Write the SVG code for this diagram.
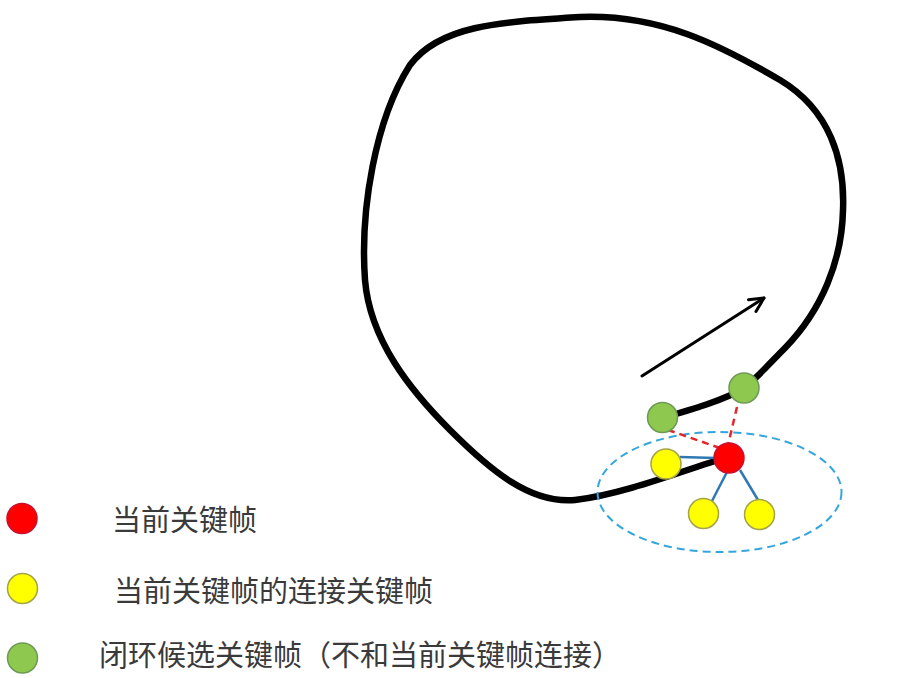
<svg xmlns="http://www.w3.org/2000/svg" width="911" height="678" viewBox="0 0 911 678">
<defs>
<style>
.lbl{font-family:"Noto Sans CJK SC","Noto Sans",sans-serif;font-size:29px;fill:#3a3a3a}
.red{fill:#ff0000;stroke:#c8102e;stroke-width:1.5}
.yel{fill:#ffff00;stroke:#a3a34a;stroke-width:1.5}
.grn{fill:#8ec84e;stroke:#6e9a55;stroke-width:1.5}
.blue{stroke:#2e78b4;stroke-width:2.5;fill:none}
.rdash{stroke:#e0282c;stroke-width:2.5;stroke-dasharray:7 5;fill:none}
</style>
<marker id="ah" viewBox="-16 -9 18 18" refX="0" refY="0" markerWidth="18" markerHeight="18" markerUnits="userSpaceOnUse" orient="auto">
<path d="M -14 -7 L 0 0 L -14 7" fill="none" stroke="#000" stroke-width="3" stroke-linecap="round" stroke-linejoin="round"/>
</marker>
</defs>
<rect width="911" height="678" fill="#ffffff"/>
<g id="trajectory">
<path d="M 715 461 C 680 472, 620 495, 575 500 C 530 504, 490 470, 450 430 C 410 390, 370 340, 365 280 C 360 210, 375 120, 410 65 C 440 25, 500 22, 580 17 C 660 14, 720 45, 780 80 C 830 110, 845 160, 843 210 C 842 260, 822 310, 785 348 C 770 363, 757 378, 744 388 C 725 400, 690 410, 662 418" fill="none" stroke="#000" stroke-width="6.5" stroke-linecap="round"/>
</g>
<g id="direction-arrow">
<line x1="642" y1="376" x2="764" y2="298" stroke="#000" stroke-width="3" stroke-linecap="round" marker-end="url(#ah)"/>
</g>
<g id="covisibility-region">
<ellipse cx="719.5" cy="492" rx="122" ry="60" fill="none" stroke="#35a6dc" stroke-width="2" stroke-dasharray="8 5"/>
</g>
<g id="connectors">
<line class="rdash" x1="668" y1="430" x2="720" y2="448"/>
<line class="rdash" x1="737" y1="407" x2="728" y2="445"/>
<line class="blue" x1="680" y1="457" x2="716" y2="458"/>
<line class="blue" x1="728" y1="470" x2="712" y2="501"/>
<line class="blue" x1="740" y1="470" x2="758" y2="500"/>
</g>
<g id="node-green1"><circle class="grn" cx="662.5" cy="417.5" r="15"/></g>
<g id="node-green2"><circle class="grn" cx="744" cy="388" r="15"/></g>
<g id="node-yellow1"><circle class="yel" cx="666" cy="464" r="15"/></g>
<g id="node-yellow2"><circle class="yel" cx="703.5" cy="513.5" r="15"/></g>
<g id="node-yellow3"><circle class="yel" cx="759.5" cy="514.5" r="15"/></g>
<g id="node-current"><circle class="red" cx="729" cy="458" r="15"/></g>
<g id="legend">
<g id="legend-current"><circle class="red" cx="22" cy="518.5" r="15"/><text class="lbl" x="112" y="531">当前关键帧</text></g>
<g id="legend-connected"><circle class="yel" cx="22.5" cy="588.5" r="15"/><text class="lbl" x="114" y="602">当前关键帧的连接关键帧</text></g>
<g id="legend-candidate"><circle class="grn" cx="22.5" cy="658" r="15"/><text class="lbl" x="99" y="666">闭环候选关键帧（不和当前关键帧连接）</text></g>
</g>
</svg>
